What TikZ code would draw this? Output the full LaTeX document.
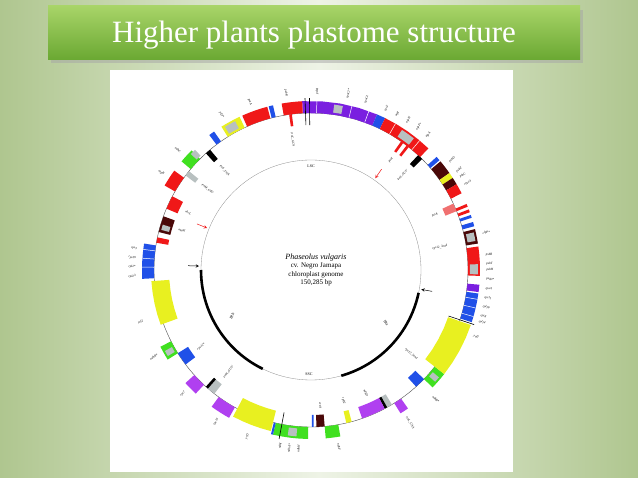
\documentclass[tikz,border=0pt]{standalone}
\usepackage{fontspec}
\setmainfont{Liberation Serif}
\begin{document}
\begin{tikzpicture}[x=1pt,y=-1pt]
\definecolor{pur}{HTML}{7A1FE0}\definecolor{gbl}{HTML}{2050E8}\definecolor{gred}{HTML}{F01818}
\definecolor{gyel}{HTML}{E8F020}\definecolor{ggrn}{HTML}{40E020}\definecolor{gbrn}{HTML}{4A0808}
\definecolor{ggry}{HTML}{B8C0C0}\definecolor{gpur}{HTML}{B040F0}\definecolor{gpink}{HTML}{F07070}
\definecolor{bgA}{HTML}{AFC68F}\definecolor{bgB}{HTML}{EEF3E6}
\definecolor{tA}{HTML}{A8D468}\definecolor{tB}{HTML}{6AA832}
\useasboundingbox (0,0) rectangle (638,478);
\shade[left color=bgA,right color=bgA,middle color=bgB] (0,0) rectangle (638,478);
% title bar
\fill[black!35,opacity=.5] (51,10) rectangle (583,63);
\shade[top color=tA,bottom color=tB] (48,6) rectangle (580,60);
\node[text=white,font=\fontsize{31}{34}\selectfont] (title) at (314,35) {Higher plants plastome structure};
% panel
\fill[white] (110,70) rectangle (513,472);
\def\cx{311}\def\cy{270}
\newcommand\gbox[5]{\fill[#5] plot[domain=#1:#2,samples=5] ({\cx+#4*sin(\x)},{\cy-#4*cos(\x)}) -- plot[domain=#2:#1,samples=5] ({\cx+#3*sin(\x)},{\cy-#3*cos(\x)}) -- cycle;}
\draw[black!70,line width=.4pt] (\cx,\cy) circle[radius=157];
\draw[black!45,line width=.3pt] (\cx,\cy) circle[radius=110];
% outer genes
\foreach \a/\b/\c in {-3/23/pur,23/26/gbl,26/44/gred,48/49.5/gbl,50/55/gbrn,55/57/gyel,57/59.5/gbrn,59.5/63/gred,67/68/gred,69/70/gred,71/72/gbl,73.5/75/gbl,76/81/gbrn,82/92/gred,95/97.5/pur,98/108/gbl,128/134/ggrn,145/148/gpur,170/175/ggrn,181/193/ggrn,193/193.7/gbl,209/216/gpur,223/228/gpur,238/243/ggrn,267/279/gbl,300/306/gred,310/315/ggrn,323/325/gbl,328/335/gyel,336/345/gred,345.5/347/gbl,350/357/gred}
  {\gbox{\a}{\b}{157}{169}{\c}}
\foreach \a/\b/\c in {8/11/ggry,33/38/ggry,77/80/ggry,88/91.5/ggry,130/132/ggry,185/188/ggry,239/241/ggry,314/316/ggry,329/333/ggry}
  {\gbox{\a}{\b}{159}{167}{\c}}
% inner genes
\foreach \a/\b/\c in {43/45/black,35/36/gred,37.5/38.5/gred,65/68/gpink,134/138/gbl,149/152/ggry,151/152/black,152/161/gpur,165/167/gyel,175/178/gbrn,179/179.7/gbl,218/222/ggry,221/222/black,233/238/gbl,280/282/gred,284/290/gbrn,293/298/gred,307/309/ggry,318/320/black,352/353/gred}
  {\gbox{\a}{\b}{145}{157}{\c}}
\gbox{109}{128}{145}{169}{gyel}
\gbox{194}{208}{145}{166}{gyel}
\gbox{250}{266}{142}{160}{gyel}
\gbox{285}{287}{147}{155}{ggry}
\foreach \a in {2,14,20,30,40,100,103,106,271,274,277}{\draw[white,line width=.5pt] ({\cx+157*sin(\a)},{\cy-157*cos(\a)}) -- ({\cx+169*sin(\a)},{\cy-169*cos(\a)});}
\foreach \a in {108.5,190.7,358,359.5}{\draw[black,line width=.6pt] ({\cx+145*sin(\a)},{\cy-145*cos(\a)}) -- ({\cx+172*sin(\a)},{\cy-172*cos(\a)});}
% IR arcs
\draw[line width=2.6pt] plot[domain=206:270,samples=30] ({\cx+110*sin(\x)},{\cy-110*cos(\x)});
\draw[line width=2.6pt] plot[domain=102:164,samples=30] ({\cx+110*sin(\x)},{\cy-110*cos(\x)});
% arrows
\foreach \a/\c in {272/black,100/black,35/gred,292/gred}{\draw[->,\c,line width=.5pt,>=stealth] ({\cx+123*sin(\a)},{\cy-123*cos(\a)}) -- ({\cx+112*sin(\a)},{\cy-112*cos(\a)});}
\node[font=\fontsize{4}{5}\selectfont] (lsc) at (\cx,166) {LSC};
\node[font=\fontsize{4}{5}\selectfont] (ssc) at (309,374) {SSC};
\node[font=\fontsize{4}{5}\selectfont,rotate=62] (irb) at (232,316) {IRb};
\node[font=\fontsize{4}{5}\selectfont,rotate=-55] (ira) at (386,323) {IRa};
\node[align=center,font=\fontsize{7}{8.3}\selectfont] (ctr) at (316,270) {{\fontsize{8}{9}\selectfont\itshape Phaseolus vulgaris}\\cv. Negro Jamapa\\chloroplast genome\\150,285 bp};
% gene labels
\foreach \a/\t in {2/psbA,12/rpoC1*,18/rpoC2,25/rps2,29/atpI,33/atpH,37/atpF*,41/atpA,52/psbD,56/psbZ,58/psbC,61/rps14,78/clpP*,85/psbB,88/psbT,90/psbH,93/petD*,96/rpoA,99/rps11,102/rpl36,105/rps8,107/rpl14,112/ycf2,136/ndhB*,147/trnL\_CAA,171/ndhF,184/ndhH,187/ndhA*,190/ndhI,201/ycf1,212/rps15,226/rps7,241/ndhB*,253/ycf2,268/rpl23,271/rpl2*,274/rps19,277/rps3,303/atpB,312/ndhC,330/ycf3*,340/psaA,352/psbK}
  {\ifdim\a pt<180pt \node[font=\fontsize{3.2}{3.5}\selectfont\itshape,rotate=90-\a,anchor=west] at ({\cx+172*sin(\a)},{\cy-172*cos(\a)}) {\t};
   \else \node[font=\fontsize{3.2}{3.5}\selectfont\itshape,rotate=270-\a,anchor=east] at ({\cx+172*sin(\a)},{\cy-172*cos(\a)}) {\t};\fi}
\foreach \a/\t in {36/psaI,44/trnS\_GCU,66/petA,80/rps12\_3end,130/rps12\_5end,156/ndhD,166/rpl32,176/ccsA,219/trnN\_GUU,235/rps12*,287/matK,295/rbcL,308/trnM\_CAU,319/trnS\_UGA,352/trnC\_GCA}
  {\ifdim\a pt<180pt \node[font=\fontsize{3.2}{3.5}\selectfont\itshape,rotate=90-\a,anchor=east] at ({\cx+142*sin(\a)},{\cy-142*cos(\a)}) {\t};
   \else \node[font=\fontsize{3.2}{3.5}\selectfont\itshape,rotate=270-\a,anchor=west] at ({\cx+142*sin(\a)},{\cy-142*cos(\a)}) {\t};\fi}
\end{tikzpicture}
\end{document}
